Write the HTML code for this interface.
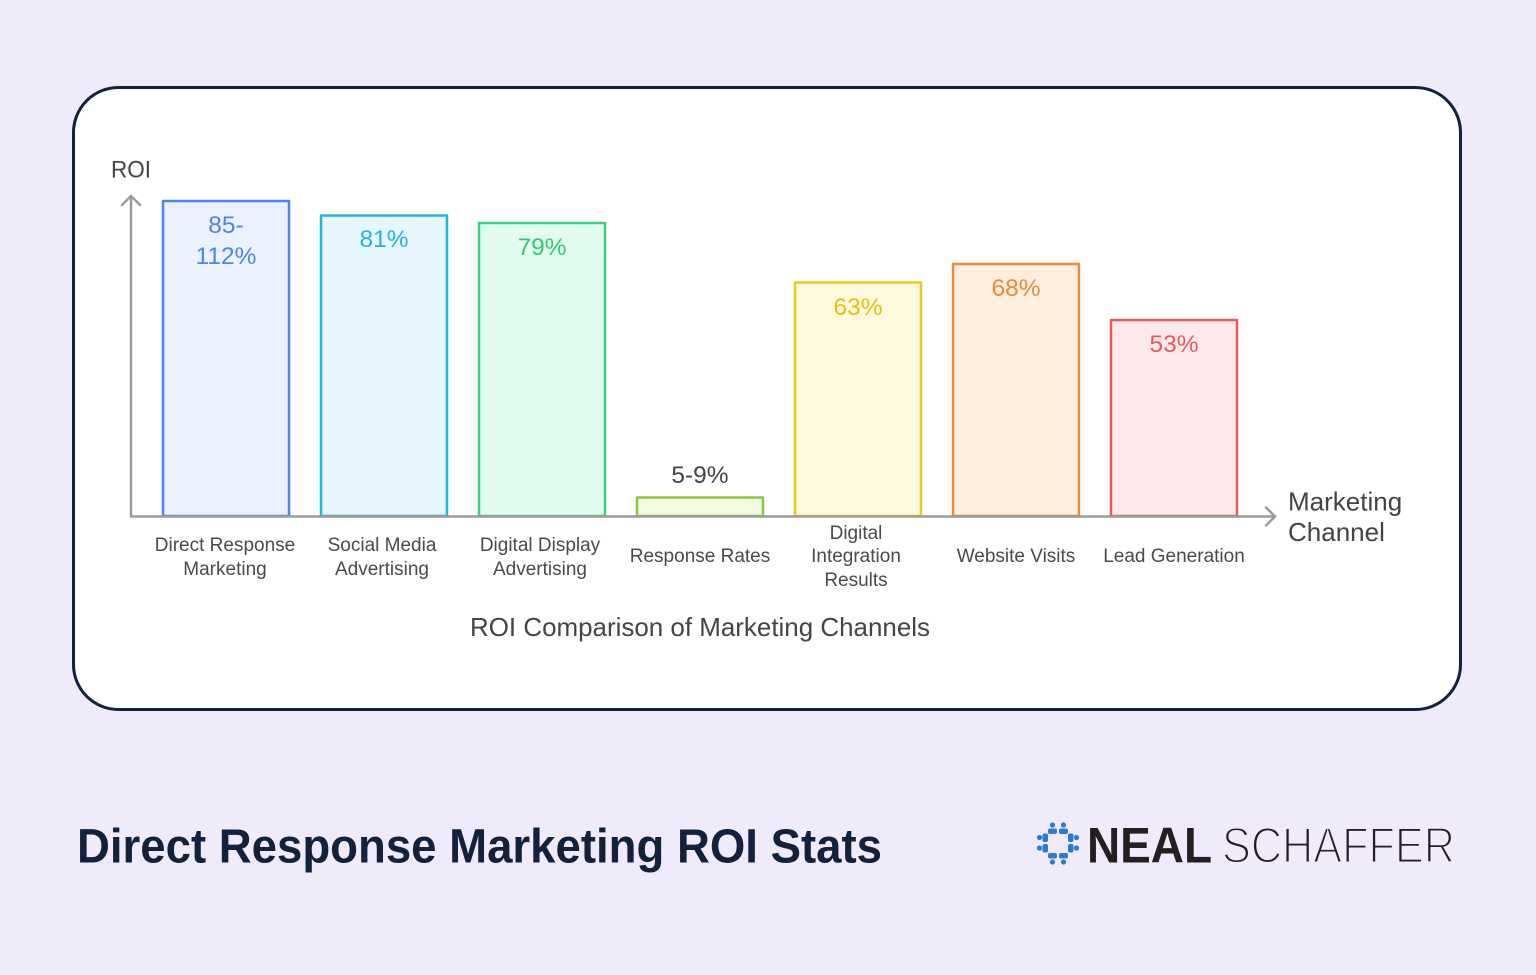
<!DOCTYPE html>
<html>
<head>
<meta charset="utf-8">
<style>
  html, body { margin:0; padding:0; background:#f0ebfa; }
  body { width:1536px; height:975px; overflow:hidden; }
  svg { display:block; }
  text { font-family: "Liberation Sans", Arial, sans-serif; }
</style>
</head>
<body>
<svg width="1536" height="975" viewBox="0 0 1536 975" xmlns="http://www.w3.org/2000/svg">
  <rect x="0" y="0" width="1536" height="975" fill="#f0ebfa"/>
  <!-- card -->
  <rect x="73.5" y="87.5" width="1387" height="622" rx="45" ry="45" fill="#ffffff" stroke="#14213d" stroke-width="3"/>

  <!-- bars -->
  <g stroke-width="2.5" stroke-linejoin="round">
    <rect x="163" y="201" width="126" height="315" fill="#ebf1fe" stroke="#4a86e8"/>
    <rect x="321" y="215.5" width="126" height="300.5" fill="#e5f6fd" stroke="#26b3e0"/>
    <rect x="479" y="223" width="126" height="293" fill="#e1fcee" stroke="#3ccf7f"/>
    <rect x="637" y="497.5" width="126" height="18.5" fill="#f1fcdf" stroke="#8dc63f"/>
    <rect x="795" y="282.5" width="126" height="233.5" fill="#fef8dc" stroke="#e6cc1a"/>
    <rect x="953" y="264" width="126" height="252" fill="#fdeedf" stroke="#ea8a3a"/>
    <rect x="1111" y="320" width="126" height="196" fill="#fde9e9" stroke="#e85a5a"/>
  </g>

  <!-- axes -->
  <g stroke="#9b9b9b" stroke-width="2.5" fill="none" stroke-linecap="round" stroke-linejoin="round">
    <line x1="131" y1="516" x2="131" y2="196"/>
    <polyline points="122,205 131,196 140,205"/>
    <line x1="131" y1="516.5" x2="1275" y2="516.5"/>
    <polyline points="1266,507.5 1275,516.5 1266,525.5"/>
  </g>

  <!-- value labels -->
  <g font-size="24.5" text-anchor="middle">
    <text x="226" y="233" fill="#4a86e8">85-</text>
    <text x="226" y="264" fill="#4a86e8">112%</text>
    <text x="384" y="247" fill="#26b3e0">81%</text>
    <text x="542" y="255" fill="#35c774">79%</text>
    <text x="700" y="483" fill="#444444">5-9%</text>
    <text x="858" y="315" fill="#e2c20e">63%</text>
    <text x="1016" y="296" fill="#ea8a3a">68%</text>
    <text x="1174" y="352" fill="#e85a5a">53%</text>
  </g>

  <!-- category labels -->
  <g font-size="19" text-anchor="middle" fill="#4a4a4a">
    <text x="225" y="551">Direct Response</text>
    <text x="225" y="575">Marketing</text>
    <text x="382" y="551">Social Media</text>
    <text x="382" y="575">Advertising</text>
    <text x="540" y="551">Digital Display</text>
    <text x="540" y="575">Advertising</text>
    <text x="700" y="562">Response Rates</text>
    <text x="856" y="539">Digital</text>
    <text x="856" y="562">Integration</text>
    <text x="856" y="586">Results</text>
    <text x="1016" y="562">Website Visits</text>
    <text x="1174" y="562">Lead Generation</text>
  </g>

  <!-- axis titles -->
  <text x="111" y="177.5" font-size="24.5" fill="#444444" textLength="40" lengthAdjust="spacingAndGlyphs">ROI</text>
  <text x="1288" y="510.5" font-size="26" fill="#444444">Marketing</text>
  <text x="1288" y="541" font-size="26" fill="#444444">Channel</text>
  <text x="700" y="636" font-size="26" fill="#444444" text-anchor="middle" textLength="460" lengthAdjust="spacingAndGlyphs">ROI Comparison of Marketing Channels</text>

  <!-- footer title -->
  <text x="77" y="862.5" font-size="48" font-weight="bold" fill="#14213d" textLength="805" lengthAdjust="spacingAndGlyphs">Direct Response Marketing ROI Stats</text>

  <!-- logo icon -->
  <g fill="#2b7bd1">
    <!-- top -->
    <circle cx="1052.5" cy="825" r="2.6"/>
    <circle cx="1063.5" cy="825" r="2.6"/>
    <rect x="1048" y="828.5" width="9" height="5.5" rx="2"/>
    <rect x="1059" y="828.5" width="9" height="5.5" rx="2"/>
    <!-- bottom -->
    <circle cx="1052.5" cy="862" r="2.6"/>
    <circle cx="1063.5" cy="862" r="2.6"/>
    <rect x="1048" y="853" width="9" height="5.5" rx="2"/>
    <rect x="1059" y="853" width="9" height="5.5" rx="2"/>
    <!-- left -->
    <circle cx="1039.5" cy="837.5" r="2.6"/>
    <circle cx="1039.5" cy="848" r="2.6"/>
    <rect x="1042.5" y="833.5" width="5.5" height="8.5" rx="2"/>
    <rect x="1042.5" y="844" width="5.5" height="8.5" rx="2"/>
    <!-- right -->
    <circle cx="1076.5" cy="837.5" r="2.6"/>
    <circle cx="1076.5" cy="848" r="2.6"/>
    <rect x="1068" y="833.5" width="5.5" height="8.5" rx="2"/>
    <rect x="1068" y="844" width="5.5" height="8.5" rx="2"/>
  </g>
  <text x="1087" y="862.5" font-size="50" font-weight="bold" fill="#231f20" textLength="125" lengthAdjust="spacingAndGlyphs">NEAL</text>
  <text x="1222" y="862.5" font-size="50" fill="#231f20" stroke="#f0ebfa" stroke-width="2" textLength="233" lengthAdjust="spacingAndGlyphs">SCHAFFER</text>
</svg>
</body>
</html>
